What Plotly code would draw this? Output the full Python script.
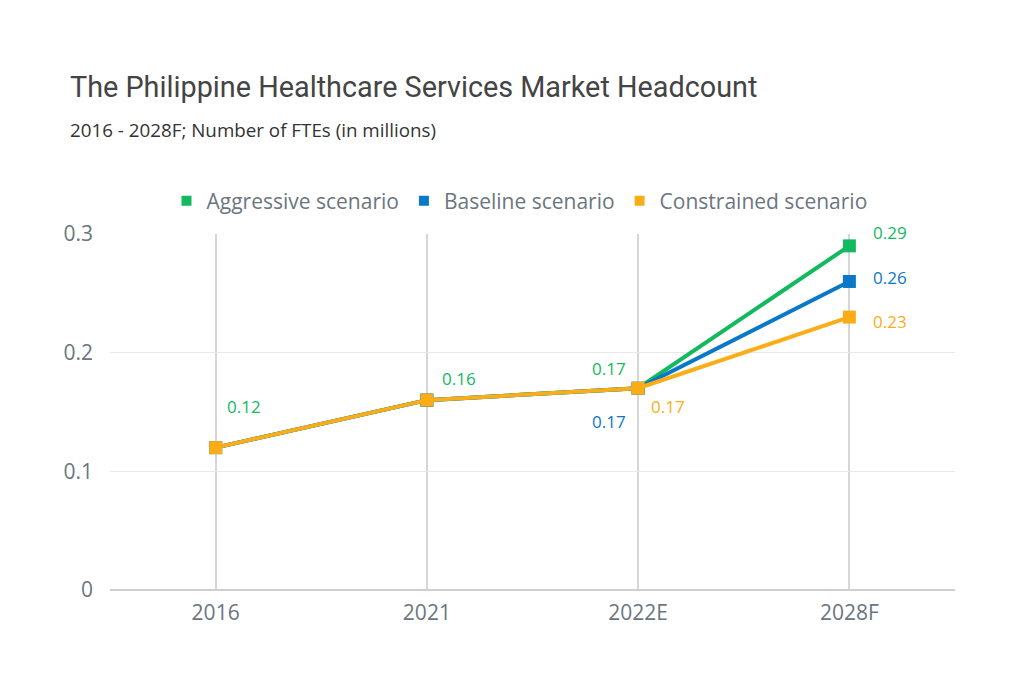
import plotly.graph_objects as go

categories = ["2016", "2021", "2022E", "2028F"]
aggressive = [0.12, 0.16, 0.17, 0.29]
baseline = [0.12, 0.16, 0.17, 0.26]
constrained = [0.12, 0.16, 0.17, 0.23]
y_ticks = [0, 0.1, 0.2, 0.3]
y_tick_labels = ["0", "0.1", "0.2", "0.3"]

series = [
    ("Aggressive scenario", aggressive, "#12B95E"),
    ("Baseline scenario", baseline, "#0A78C8"),
    ("Constrained scenario", constrained, "#FBAD18"),
]

# which points get a value label, with pixel offsets (dx, dy) per series
label_offsets = {
    "Aggressive scenario": {0: (28, 41), 1: (32, 22), 2: (-29, 20), 3: (41, 13)},
    "Baseline scenario": {2: (-29, -33), 3: (41, 4)},
    "Constrained scenario": {2: (30, -18), 3: (41, -4)},
}

fig = go.Figure()
for name, vals, color in series:
    fig.add_trace(go.Scatter(
        x=categories, y=vals, mode="lines+markers", name=name,
        line=dict(color=color, width=4),
        marker=dict(symbol="square", size=13, color=color),
        showlegend=False, hoverinfo="skip",
    ))
for name, vals, color in series:
    fig.add_trace(go.Scatter(
        x=[None], y=[None], mode="markers", name=name,
        marker=dict(symbol="square", size=10, color=color),
        showlegend=True,
    ))

annotations = []
for name, vals, color in series:
    for i, (dx, dy) in label_offsets[name].items():
        annotations.append(dict(
            x=i, y=vals[i], xref="x", yref="y",
            text=f"{vals[i]:.2f}", showarrow=False,
            xshift=dx, yshift=dy, xanchor="center", yanchor="middle",
            font=dict(family="Open Sans", size=17, color=color),
        ))

annotations.append(dict(
    text="2016 - 2028F; Number of FTEs (in millions)",
    xref="paper", yref="paper", x=-0.0497, y=(590 - 130) / 356,
    xanchor="left", yanchor="middle", showarrow=False,
    font=dict(family="Open Sans", size=18.8, color="#333333"),
))

fig.update_layout(
    width=1024, height=683,
    paper_bgcolor="white", plot_bgcolor="white",
    margin=dict(l=110, r=69, t=234, b=93),
    title=dict(
        text="The Philippine Healthcare Services Market Headcount",
        x=70 / 1024, xref="container", xanchor="left",
        y=1 - 87 / 683, yref="container", yanchor="middle",
        font=dict(family="Roboto", size=28.8, color="#444444"),
    ),
    legend=dict(
        orientation="h", x=0.4846, xanchor="center",
        y=1 + 33 / 356, yanchor="middle",
        font=dict(family="Open Sans", size=21, color="#6B7680"),
        bgcolor="rgba(0,0,0,0)", itemwidth=30,
    ),
    annotations=annotations,
    showlegend=True,
)
fig.update_xaxes(
    type="category", range=[-0.5, 3.5],
    showgrid=True, gridcolor="#D6D6D6", gridwidth=1.5,
    showline=False, zeroline=False, ticks="", ticklabelstandoff=8,
    tickfont=dict(family="Open Sans", size=21, color="#6B7680"),
    fixedrange=True,
)
fig.update_yaxes(
    range=[0, 0.3], tickvals=y_ticks, ticktext=y_tick_labels,
    showgrid=True, gridcolor="#E8E8E8", gridwidth=1,
    zeroline=True, zerolinecolor="#CFCFCF", zerolinewidth=1.5,
    showline=False, ticks="", ticklabelstandoff=16,
    tickfont=dict(family="Open Sans", size=21, color="#6B7680"),
    fixedrange=True,
)

fig.write_html("out.html", config={"displayModeBar": False},
               post_script="document.body.style.margin='0';")
